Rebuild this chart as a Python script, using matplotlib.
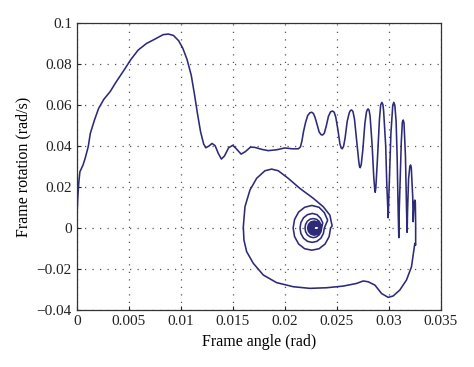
import matplotlib.pyplot as plt
import numpy as np

plt.rcParams['font.family'] = ['Liberation Serif', 'DejaVu Serif']

# rise from rest and the big hump
hump_x = [0, 0.00003, 0.0001, 0.0002, 0.0003, 0.0006, 0.0008, 0.0011, 0.0013, 0.0017,
          0.0021, 0.0026, 0.0032, 0.0038, 0.0045, 0.0052, 0.0059, 0.0067, 0.0075, 0.0083,
          0.0088, 0.0093, 0.0098, 0.0102, 0.0106, 0.0110, 0.0113, 0.0116, 0.0119, 0.0122]
hump_y = [0, 0.0071, 0.0153, 0.0226, 0.0274, 0.0307, 0.0339, 0.0396, 0.0461, 0.0526,
          0.0583, 0.0627, 0.0664, 0.0713, 0.0766, 0.0821, 0.0867, 0.0899, 0.0920, 0.0942,
          0.0945, 0.0938, 0.0912, 0.0875, 0.0821, 0.0745, 0.0656, 0.0558, 0.0469, 0.0409]

# plateau around 0.04
plat_x = [0.0124, 0.0127, 0.0130, 0.0133, 0.0136, 0.0139, 0.0142, 0.0146, 0.0150, 0.0153,
          0.0158, 0.0162, 0.0167, 0.0171, 0.0178, 0.0184, 0.0192, 0.0200, 0.0207, 0.0212]
plat_y = [0.0391, 0.0399, 0.0412, 0.0401, 0.0364, 0.0336, 0.0351, 0.0391, 0.0403, 0.0388,
          0.0360, 0.0372, 0.0394, 0.0393, 0.0383, 0.0377, 0.0381, 0.0390, 0.0386, 0.0386]

# growing oscillations
osc_x = [0.02130, 0.02150, 0.02165, 0.0218, 0.0220, 0.0222, 0.02240, 0.02258, 0.02275, 0.0229,
         0.0231, 0.0233, 0.02348, 0.02363, 0.0238, 0.0240, 0.0242, 0.02440, 0.02459, 0.02475,
         0.0249, 0.0251, 0.0253, 0.02542, 0.02552, 0.02565, 0.0258, 0.0260, 0.02620, 0.02632,
         0.02642, 0.02655, 0.0267, 0.0269, 0.0271, 0.02718, 0.02725, 0.02735, 0.0275, 0.0277,
         0.02785, 0.02795, 0.02801, 0.0281, 0.0282, 0.0284, 0.02855, 0.02865, 0.02869, 0.02875,
         0.0289, 0.0291, 0.02922, 0.02933, 0.02943, 0.0295, 0.0297, 0.0298, 0.02992, 0.02994,
         0.03000, 0.0302, 0.03038, 0.03048, 0.03058, 0.0307, 0.0308, 0.0309, 0.03096, 0.0310,
         0.0312, 0.03130, 0.03138, 0.03146, 0.0316, 0.0317, 0.03176, 0.0318, 0.0319, 0.03202,
         0.03209, 0.03216, 0.0323, 0.03234, 0.03240, 0.03246, 0.0325, 0.03255, 0.03258, 0.03258]
osc_y = [0.0386, 0.0395, 0.0425, 0.0470, 0.0515, 0.0548, 0.0561, 0.0564, 0.0558, 0.0540,
         0.0505, 0.0468, 0.0455, 0.0453, 0.0462, 0.0500, 0.0545, 0.0566, 0.0570, 0.0564,
         0.0540, 0.0480, 0.0410, 0.0390, 0.0386, 0.0398, 0.0440, 0.0520, 0.0562, 0.0573,
         0.0575, 0.0568, 0.0530, 0.0430, 0.0330, 0.0300, 0.0294, 0.0310, 0.0380, 0.0510,
         0.0565, 0.0578, 0.0580, 0.0574, 0.0545, 0.0400, 0.0250, 0.0185, 0.0174, 0.0195,
         0.0330, 0.0530, 0.0600, 0.0612, 0.0602, 0.0570, 0.0400, 0.0220, 0.0070, 0.0050,
         0.0150, 0.0460, 0.0598, 0.0612, 0.0598, 0.0520, 0.0350, 0.0080, -0.0047, 0.0080,
         0.0420, 0.0515, 0.0526, 0.0512, 0.0350, 0.0100, -0.0021, 0.0080, 0.0240, 0.0300,
         0.0307, 0.0295, 0.0150, 0.0031, 0.0090, 0.0130, 0.0136, 0.0125, 0.0020, -0.0083]

# large return loop
loop_x = [0.0325, 0.03218, 0.0317, 0.03106, 0.03042, 0.02994, 0.0293, 0.02866, 0.02802, 0.02754,
          0.0269, 0.02561, 0.02402, 0.02241, 0.02081, 0.01921, 0.01793, 0.01697, 0.01633, 0.01607,
          0.01601, 0.01617, 0.01665, 0.01729, 0.01809, 0.01873, 0.01937, 0.02033, 0.02145, 0.02273,
          0.02369, 0.02433, 0.02455]
loop_y = [-0.0075, -0.0189, -0.0253, -0.0302, -0.0331, -0.0338, -0.0319, -0.0278, -0.0262, -0.0258,
          -0.0270, -0.0283, -0.0291, -0.0294, -0.0286, -0.0266, -0.0229, -0.0172, -0.0115, -0.0058,
          0.0006, 0.0104, 0.0185, 0.0242, 0.0279, 0.0287, 0.0279, 0.0242, 0.0193, 0.0145,
          0.0104, 0.0063, 0.0010]

# inner spiral toward the equilibrium, lap by lap
spiral_x = [0.0244, 0.02426, 0.02387, 0.02329, 0.0226, 0.02191, 0.02133, 0.02094,
            0.0208, 0.02094, 0.02133, 0.02191, 0.0226, 0.02329, 0.02380, 0.02412,
            0.0238, 0.02371, 0.02346, 0.02308, 0.02263, 0.02218, 0.02180, 0.02155,
            0.02146, 0.02155, 0.02180, 0.02218, 0.02265, 0.02310, 0.02343, 0.02365,
            0.02354, 0.02348, 0.02331, 0.02305, 0.02274, 0.02243, 0.02217, 0.02200,
            0.02194, 0.02200, 0.02217, 0.02243, 0.02276, 0.02307, 0.02331, 0.02346,
            0.02347, 0.02338, 0.02315, 0.02283, 0.02251, 0.02228, 0.02219, 0.02228,
            0.02251, 0.02285, 0.02316, 0.02338,
            0.0234, 0.02333, 0.02313, 0.02286, 0.02259, 0.02239, 0.02232, 0.02239,
            0.02259, 0.02288, 0.02315, 0.02332,
            0.02337, 0.02331, 0.02314, 0.0229, 0.02267, 0.0225, 0.02244, 0.0225,
            0.02267, 0.02292, 0.02315, 0.02331,
            0.02334, 0.02329, 0.02315, 0.02296, 0.02277, 0.02263, 0.02258, 0.02263,
            0.02277, 0.02297, 0.02316, 0.02329,
            0.0233, 0.02326, 0.02315, 0.023, 0.02285, 0.02274, 0.0227, 0.02274,
            0.02285, 0.023, 0.02315, 0.02326,
            0.0233, 0.02327, 0.02318, 0.02305, 0.02292, 0.02283, 0.0228, 0.02283,
            0.02292, 0.02305, 0.02318, 0.02327, 0.0233]
spiral_y = [0, -0.0042, -0.0078, -0.0101, -0.0108, -0.0101, -0.0078, -0.0042,
            0, 0.0042, 0.0078, 0.0101, 0.0110, 0.0101, 0.0075, 0.0038,
            0, -0.0027, -0.0050, -0.0065, -0.0070, -0.0065, -0.0050, -0.0027,
            0, 0.0027, 0.0050, 0.0065, 0.0071, 0.0065, 0.0048, 0.0025,
            0, -0.0018, -0.0033, -0.0043, -0.0047, -0.0043, -0.0033, -0.0018,
            0, 0.0018, 0.0033, 0.0043, 0.0046, 0.0042, 0.0032, 0.0017,
            0, -0.00175, -0.00303, -0.0035, -0.00303, -0.00175, 0, 0.00175,
            0.0030, 0.0034, 0.0029, 0.0017,
            0, -0.00145, -0.00251, -0.0029, -0.00251, -0.00145, 0, 0.0014,
            0.0024, 0.0028, 0.0024, 0.0014,
            0, -0.0011, -0.0019, -0.0022, -0.0019, -0.0011, 0, 0.0011,
            0.0019, 0.0021, 0.0018, 0.0010,
            0, -0.0009, -0.00156, -0.0018, -0.00156, -0.0009, 0, 0.0009,
            0.00155, 0.0018, 0.00155, 0.0009,
            0, -0.00065, -0.00113, -0.0013, -0.00113, -0.00065, 0, 0.00065,
            0.00113, 0.0013, 0.00113, 0.00065,
            0, -0.0005, -0.00087, -0.001, -0.00087, -0.0005, 0, 0.0005,
            0.00087, 0.001, 0.00087, 0.0005, 0]

x_ticks = [0, 0.005, 0.01, 0.015, 0.02, 0.025, 0.03, 0.035]
x_labels = ["0", "0.005", "0.01", "0.015", "0.02", "0.025", "0.03", "0.035"]
y_ticks = [-0.04, -0.02, 0, 0.02, 0.04, 0.06, 0.08, 0.1]
y_labels = ["\u22120.04", "\u22120.02", "0", "0.02", "0.04", "0.06", "0.08", "0.1"]

x = np.concatenate([hump_x, plat_x, osc_x, loop_x, spiral_x])
y = np.concatenate([hump_y, plat_y, osc_y, loop_y, spiral_y])

fig = plt.figure(figsize=(4.74, 3.67), dpi=100)
ax = fig.add_axes([0.162, 0.155, 0.768, 0.783])
ax.plot(x, y, color="#2d2a78", linewidth=1.15)

ax.set_xlim(0, 0.035)
ax.set_ylim(-0.04, 0.1)
ax.set_xticks(x_ticks)
ax.set_xticklabels(x_labels)
ax.set_yticks(y_ticks)
ax.set_yticklabels(y_labels)
ax.tick_params(direction="in", length=3, labelsize=11, colors="#222222")
ax.grid(True, color="#555555", linestyle=(0, (1, 5)), linewidth=0.9)
for s in ax.spines.values():
    s.set_color("#333333")
    s.set_linewidth(0.9)

ax.set_xlabel("Frame angle (rad)", fontsize=11.5, labelpad=4)
ax.set_ylabel("Frame rotation (rad/s)", fontsize=11.5, labelpad=4)

fig.savefig("out.png", dpi=100, facecolor="white")
